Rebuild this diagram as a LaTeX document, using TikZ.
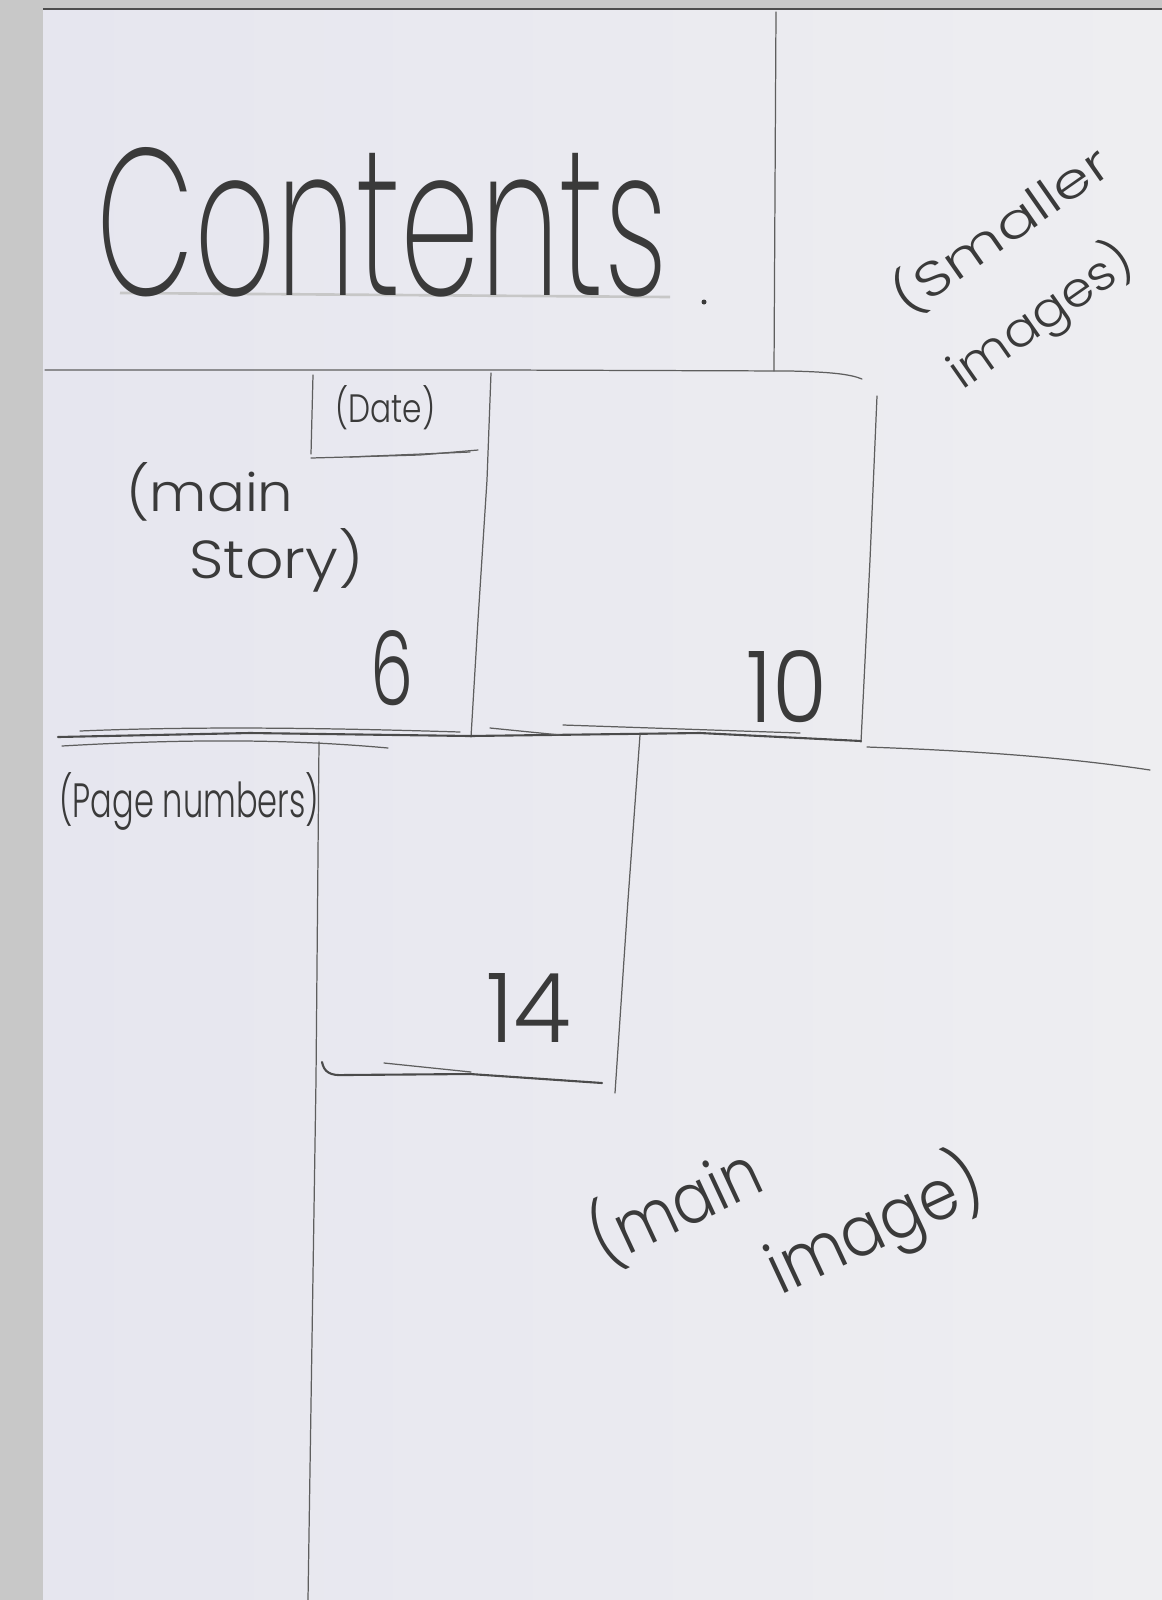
\documentclass[tikz,border=0pt]{standalone}
\usepackage{fontspec}
\newfontfamily\handfont{Poppins}[UprightFont={* Light}]
\newfontfamily\titlefont{Poppins}[UprightFont={* ExtraLight}]

\definecolor{paper}{HTML}{E6E6EF}
\definecolor{paperlight}{HTML}{EEEEF1}
\definecolor{scanner}{HTML}{C8C8C8}
\definecolor{pencil}{HTML}{5E5E5E}
\definecolor{lead}{HTML}{3A3A3A}

% squeeze a handwritten word into its box (width, height in cm)
\newcommand{\sketch}[3]{\resizebox{#1cm}{#2cm}{#3}}

\tikzset{
  stroke/.style={draw=pencil, line width=0.7pt, line cap=round, line join=round},
  heavy/.style={stroke, draw=pencil!80!black, line width=1.2pt},
  hand/.style={text=lead, inner sep=0pt, anchor=base west, font=\handfont},
}

\begin{document}
\begin{tikzpicture}[x=0.02cm, y=-0.02cm]

  \useasboundingbox (0,0) rectangle (1162,1600);

  % Define the sheet
  \fill[scanner] (0,0) rectangle (1162,1600);
  \shade[left color=paper, right color=paperlight] (43,9) rectangle (1162,1600);
  \draw[line width=1.4pt, black!70] (43,9) -- (1162,9);

  % Title block
  \draw[stroke] (776,12) -- (774,371);
  \draw[stroke] (45,370) -- (500,370) -- (790,371) .. controls (830,372) and (850,374) .. (862,379);
  \draw[pencil!35, line width=1.5pt] (120,293) -- (670,297);
  \fill[lead] (704,302) circle (2.5);

  % Date box and the two story boxes
  \draw[stroke] (313,375) -- (311,454);
  \draw[stroke] (311,458) -- (420,455) -- (478,450);
  \draw[stroke] (350,457) -- (470,452);
  \draw[stroke] (491,373) -- (487,480) -- (478,620) -- (471,737);
  \draw[stroke] (877,396) -- (870,560) -- (861,742);

  % Middle rule, gone over a few times
  \draw[heavy] (58,737) -- (250,733) -- (470,736) -- (700,733) -- (861,741);
  \draw[stroke] (62,746) .. controls (200,738) and (300,740) .. (388,748);
  \draw[stroke] (80,731) .. controls (200,726) and (330,728) .. (460,732);
  \draw[stroke] (490,728) -- (560,735);
  \draw[stroke] (563,725) -- (800,733);
  \draw[stroke] (867,747) .. controls (950,750) and (1050,755) .. (1150,770);

  % Box for 14 and the long rule
  \draw[stroke] (319,742) -- (316,1080) -- (308,1600);
  \draw[stroke] (640,735) -- (628,900) -- (615,1093);
  \draw[heavy] (322,1062) .. controls (324,1072) and (330,1076) .. (345,1075) -- (470,1074) -- (602,1083);
  \draw[stroke] (384,1063) -- (471,1072);

  % Define text
  \node[hand, font=\titlefont] (contents) at (96,295) {\sketch{11.42}{2.96}{Contents}};
  \node[hand, rotate=35] (smaller) at (907,317) {\sketch{5.05}{0.9}{(Smaller}};
  \node[hand, rotate=35] (images) at (962,391) {\sketch{4.28}{0.9}{images)}};
  \node[hand] (date) at (335,422) {\sketch{2.0}{0.74}{(Date)}};
  \node[hand] (mainstory) at (126,511) {\sketch{3.34}{0.98}{(main}};
  \node[hand] (story) at (189,578) {\sketch{3.48}{1.0}{Story)}};
  \node[hand] (psix) at (370,705) {\sketch{0.86}{1.5}{6}};
  \node[hand] (pten) at (746,722) {\sketch{1.62}{1.44}{10}};
  \node[hand] (pfourteen) at (486,1042) {\sketch{1.7}{1.38}{14}};
  \node[hand] (pagenum) at (59,817) {\sketch{5.2}{0.9}{(Page numbers)}};
  \node[hand, rotate=25] (mainimage) at (604,1266) {\sketch{3.6}{1.3}{(main}};
  \node[hand, rotate=25] (image) at (780,1296) {\sketch{4.6}{1.3}{image)}};

\end{tikzpicture}
\end{document}
